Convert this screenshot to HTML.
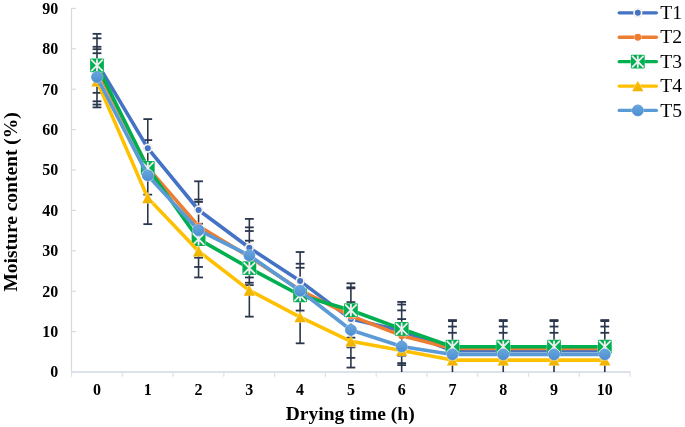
<!DOCTYPE html>
<html><head><meta charset="utf-8"><style>
html,body{margin:0;padding:0;background:#fff;}
body{width:685px;height:427px;overflow:hidden;}
svg{display:block;}
</style></head><body>
<svg width="685" height="427" viewBox="0 0 685 427">
<defs><linearGradient id="g5" x1="0" y1="0" x2="0" y2="1"><stop offset="0" stop-color="#67A6DF"/><stop offset="1" stop-color="#4E8ECF"/></linearGradient><linearGradient id="g4" x1="0" y1="0" x2="0" y2="1"><stop offset="0" stop-color="#FFC000"/><stop offset="1" stop-color="#EFB200"/></linearGradient></defs>
<line x1="71.5" y1="8.4" x2="71.5" y2="372" stroke="#D9D9D9" stroke-width="1.2"/>
<line x1="71.5" y1="331.6" x2="76.0" y2="331.6" stroke="#D9D9D9" stroke-width="1.1"/>
<line x1="71.5" y1="291.2" x2="76.0" y2="291.2" stroke="#D9D9D9" stroke-width="1.1"/>
<line x1="71.5" y1="250.8" x2="76.0" y2="250.8" stroke="#D9D9D9" stroke-width="1.1"/>
<line x1="71.5" y1="210.4" x2="76.0" y2="210.4" stroke="#D9D9D9" stroke-width="1.1"/>
<line x1="71.5" y1="170" x2="76.0" y2="170" stroke="#D9D9D9" stroke-width="1.1"/>
<line x1="71.5" y1="129.6" x2="76.0" y2="129.6" stroke="#D9D9D9" stroke-width="1.1"/>
<line x1="71.5" y1="89.2" x2="76.0" y2="89.2" stroke="#D9D9D9" stroke-width="1.1"/>
<line x1="71.5" y1="48.8" x2="76.0" y2="48.8" stroke="#D9D9D9" stroke-width="1.1"/>
<line x1="71.5" y1="8.4" x2="76.0" y2="8.4" stroke="#D9D9D9" stroke-width="1.1"/>
<line x1="71.5" y1="372" x2="630.5" y2="372" stroke="#DDE1E9" stroke-width="2"/>
<line x1="71.5" y1="372" x2="71.5" y2="376.8" stroke="#DDE1E9" stroke-width="1.3"/>
<line x1="122.28" y1="372" x2="122.28" y2="376.8" stroke="#DDE1E9" stroke-width="1.3"/>
<line x1="173.06" y1="372" x2="173.06" y2="376.8" stroke="#DDE1E9" stroke-width="1.3"/>
<line x1="223.84" y1="372" x2="223.84" y2="376.8" stroke="#DDE1E9" stroke-width="1.3"/>
<line x1="274.62" y1="372" x2="274.62" y2="376.8" stroke="#DDE1E9" stroke-width="1.3"/>
<line x1="325.4" y1="372" x2="325.4" y2="376.8" stroke="#DDE1E9" stroke-width="1.3"/>
<line x1="376.18" y1="372" x2="376.18" y2="376.8" stroke="#DDE1E9" stroke-width="1.3"/>
<line x1="426.96" y1="372" x2="426.96" y2="376.8" stroke="#DDE1E9" stroke-width="1.3"/>
<line x1="477.74" y1="372" x2="477.74" y2="376.8" stroke="#DDE1E9" stroke-width="1.3"/>
<line x1="528.52" y1="372" x2="528.52" y2="376.8" stroke="#DDE1E9" stroke-width="1.3"/>
<line x1="579.3" y1="372" x2="579.3" y2="376.8" stroke="#DDE1E9" stroke-width="1.3"/>
<line x1="630.08" y1="372" x2="630.08" y2="376.8" stroke="#DDE1E9" stroke-width="1.3"/>
<line x1="97" y1="33.85" x2="97" y2="107.38" stroke="#2A364C" stroke-width="1.6"/>
<line x1="92.6" y1="33.85" x2="101.4" y2="33.85" stroke="#2A364C" stroke-width="1.8"/>
<line x1="92.6" y1="38.3" x2="101.4" y2="38.3" stroke="#2A364C" stroke-width="1.8"/>
<line x1="92.6" y1="46.78" x2="101.4" y2="46.78" stroke="#2A364C" stroke-width="1.8"/>
<line x1="92.6" y1="49.2" x2="101.4" y2="49.2" stroke="#2A364C" stroke-width="1.8"/>
<line x1="92.6" y1="53.24" x2="101.4" y2="53.24" stroke="#2A364C" stroke-width="1.8"/>
<line x1="92.6" y1="92.84" x2="101.4" y2="92.84" stroke="#2A364C" stroke-width="1.8"/>
<line x1="92.6" y1="101.32" x2="101.4" y2="101.32" stroke="#2A364C" stroke-width="1.8"/>
<line x1="92.6" y1="104.55" x2="101.4" y2="104.55" stroke="#2A364C" stroke-width="1.8"/>
<line x1="92.6" y1="107.38" x2="101.4" y2="107.38" stroke="#2A364C" stroke-width="1.8"/>
<line x1="147.78" y1="119.1" x2="147.78" y2="224.14" stroke="#2A364C" stroke-width="1.6"/>
<line x1="143.38" y1="119.1" x2="152.18" y2="119.1" stroke="#2A364C" stroke-width="1.8"/>
<line x1="143.38" y1="140.1" x2="152.18" y2="140.1" stroke="#2A364C" stroke-width="1.8"/>
<line x1="143.38" y1="194.64" x2="152.18" y2="194.64" stroke="#2A364C" stroke-width="1.8"/>
<line x1="143.38" y1="224.14" x2="152.18" y2="224.14" stroke="#2A364C" stroke-width="1.8"/>
<line x1="198.56" y1="181.31" x2="198.56" y2="277.46" stroke="#2A364C" stroke-width="1.6"/>
<line x1="194.16" y1="181.31" x2="202.96" y2="181.31" stroke="#2A364C" stroke-width="1.8"/>
<line x1="194.16" y1="199.49" x2="202.96" y2="199.49" stroke="#2A364C" stroke-width="1.8"/>
<line x1="194.16" y1="201.92" x2="202.96" y2="201.92" stroke="#2A364C" stroke-width="1.8"/>
<line x1="194.16" y1="223.73" x2="202.96" y2="223.73" stroke="#2A364C" stroke-width="1.8"/>
<line x1="194.16" y1="257.67" x2="202.96" y2="257.67" stroke="#2A364C" stroke-width="1.8"/>
<line x1="194.16" y1="266.96" x2="202.96" y2="266.96" stroke="#2A364C" stroke-width="1.8"/>
<line x1="194.16" y1="277.46" x2="202.96" y2="277.46" stroke="#2A364C" stroke-width="1.8"/>
<line x1="249.34" y1="218.88" x2="249.34" y2="316.65" stroke="#2A364C" stroke-width="1.6"/>
<line x1="244.94" y1="218.88" x2="253.74" y2="218.88" stroke="#2A364C" stroke-width="1.8"/>
<line x1="244.94" y1="227.37" x2="253.74" y2="227.37" stroke="#2A364C" stroke-width="1.8"/>
<line x1="244.94" y1="231" x2="253.74" y2="231" stroke="#2A364C" stroke-width="1.8"/>
<line x1="244.94" y1="240.7" x2="253.74" y2="240.7" stroke="#2A364C" stroke-width="1.8"/>
<line x1="244.94" y1="277.46" x2="253.74" y2="277.46" stroke="#2A364C" stroke-width="1.8"/>
<line x1="244.94" y1="282.72" x2="253.74" y2="282.72" stroke="#2A364C" stroke-width="1.8"/>
<line x1="244.94" y1="285.14" x2="253.74" y2="285.14" stroke="#2A364C" stroke-width="1.8"/>
<line x1="244.94" y1="316.65" x2="253.74" y2="316.65" stroke="#2A364C" stroke-width="1.8"/>
<line x1="300.12" y1="252.01" x2="300.12" y2="343.32" stroke="#2A364C" stroke-width="1.6"/>
<line x1="295.72" y1="252.01" x2="304.52" y2="252.01" stroke="#2A364C" stroke-width="1.8"/>
<line x1="295.72" y1="263.73" x2="304.52" y2="263.73" stroke="#2A364C" stroke-width="1.8"/>
<line x1="295.72" y1="267.77" x2="304.52" y2="267.77" stroke="#2A364C" stroke-width="1.8"/>
<line x1="295.72" y1="310.59" x2="304.52" y2="310.59" stroke="#2A364C" stroke-width="1.8"/>
<line x1="295.72" y1="343.32" x2="304.52" y2="343.32" stroke="#2A364C" stroke-width="1.8"/>
<line x1="350.9" y1="283.32" x2="350.9" y2="367.56" stroke="#2A364C" stroke-width="1.6"/>
<line x1="346.5" y1="283.32" x2="355.3" y2="283.32" stroke="#2A364C" stroke-width="1.8"/>
<line x1="346.5" y1="287.32" x2="355.3" y2="287.32" stroke="#2A364C" stroke-width="1.8"/>
<line x1="346.5" y1="288.37" x2="355.3" y2="288.37" stroke="#2A364C" stroke-width="1.8"/>
<line x1="346.5" y1="302.11" x2="355.3" y2="302.11" stroke="#2A364C" stroke-width="1.8"/>
<line x1="346.5" y1="337.66" x2="355.3" y2="337.66" stroke="#2A364C" stroke-width="1.8"/>
<line x1="346.5" y1="347.36" x2="355.3" y2="347.36" stroke="#2A364C" stroke-width="1.8"/>
<line x1="346.5" y1="357.86" x2="355.3" y2="357.86" stroke="#2A364C" stroke-width="1.8"/>
<line x1="346.5" y1="367.56" x2="355.3" y2="367.56" stroke="#2A364C" stroke-width="1.8"/>
<line x1="401.68" y1="301.91" x2="401.68" y2="372" stroke="#2A364C" stroke-width="1.6"/>
<line x1="397.28" y1="301.91" x2="406.08" y2="301.91" stroke="#2A364C" stroke-width="1.8"/>
<line x1="397.28" y1="304.53" x2="406.08" y2="304.53" stroke="#2A364C" stroke-width="1.8"/>
<line x1="397.28" y1="310.39" x2="406.08" y2="310.39" stroke="#2A364C" stroke-width="1.8"/>
<line x1="397.28" y1="319.08" x2="406.08" y2="319.08" stroke="#2A364C" stroke-width="1.8"/>
<line x1="397.28" y1="355.84" x2="406.08" y2="355.84" stroke="#2A364C" stroke-width="1.8"/>
<line x1="397.28" y1="363.11" x2="406.08" y2="363.11" stroke="#2A364C" stroke-width="1.8"/>
<line x1="397.28" y1="365.13" x2="406.08" y2="365.13" stroke="#2A364C" stroke-width="1.8"/>
<line x1="452.46" y1="320.05" x2="452.46" y2="372" stroke="#2A364C" stroke-width="1.6"/>
<line x1="448.06" y1="320.05" x2="456.86" y2="320.05" stroke="#2A364C" stroke-width="1.8"/>
<line x1="448.06" y1="321.1" x2="456.86" y2="321.1" stroke="#2A364C" stroke-width="1.8"/>
<line x1="448.06" y1="326.55" x2="456.86" y2="326.55" stroke="#2A364C" stroke-width="1.8"/>
<line x1="448.06" y1="332.81" x2="456.86" y2="332.81" stroke="#2A364C" stroke-width="1.8"/>
<line x1="503.24" y1="320.05" x2="503.24" y2="372" stroke="#2A364C" stroke-width="1.6"/>
<line x1="498.84" y1="320.05" x2="507.64" y2="320.05" stroke="#2A364C" stroke-width="1.8"/>
<line x1="498.84" y1="321.1" x2="507.64" y2="321.1" stroke="#2A364C" stroke-width="1.8"/>
<line x1="498.84" y1="326.55" x2="507.64" y2="326.55" stroke="#2A364C" stroke-width="1.8"/>
<line x1="498.84" y1="332.81" x2="507.64" y2="332.81" stroke="#2A364C" stroke-width="1.8"/>
<line x1="554.02" y1="320.05" x2="554.02" y2="372" stroke="#2A364C" stroke-width="1.6"/>
<line x1="549.62" y1="320.05" x2="558.42" y2="320.05" stroke="#2A364C" stroke-width="1.8"/>
<line x1="549.62" y1="321.1" x2="558.42" y2="321.1" stroke="#2A364C" stroke-width="1.8"/>
<line x1="549.62" y1="326.55" x2="558.42" y2="326.55" stroke="#2A364C" stroke-width="1.8"/>
<line x1="549.62" y1="332.81" x2="558.42" y2="332.81" stroke="#2A364C" stroke-width="1.8"/>
<line x1="604.8" y1="320.05" x2="604.8" y2="372" stroke="#2A364C" stroke-width="1.6"/>
<line x1="600.4" y1="320.05" x2="609.2" y2="320.05" stroke="#2A364C" stroke-width="1.8"/>
<line x1="600.4" y1="321.1" x2="609.2" y2="321.1" stroke="#2A364C" stroke-width="1.8"/>
<line x1="600.4" y1="326.55" x2="609.2" y2="326.55" stroke="#2A364C" stroke-width="1.8"/>
<line x1="600.4" y1="332.81" x2="609.2" y2="332.81" stroke="#2A364C" stroke-width="1.8"/>
<polyline points="97,62.94 147.78,148.18 198.56,210 249.34,247.77 300.12,281.1 350.9,319.08 401.68,330.79 452.46,350.79 503.24,350.79 554.02,350.79 604.8,350.79" fill="none" stroke="#4472C4" stroke-width="3.6" stroke-linejoin="round" stroke-linecap="round"/>
<circle cx="97" cy="62.94" r="4.7" fill="#E8E4DD"/>
<circle cx="97" cy="62.94" r="4.0" fill="#FBFAF7"/>
<circle cx="97" cy="62.94" r="3.0" fill="#4472C4"/>
<circle cx="147.78" cy="148.18" r="4.7" fill="#E8E4DD"/>
<circle cx="147.78" cy="148.18" r="4.0" fill="#FBFAF7"/>
<circle cx="147.78" cy="148.18" r="3.0" fill="#4472C4"/>
<circle cx="198.56" cy="210" r="4.7" fill="#E8E4DD"/>
<circle cx="198.56" cy="210" r="4.0" fill="#FBFAF7"/>
<circle cx="198.56" cy="210" r="3.0" fill="#4472C4"/>
<circle cx="249.34" cy="247.77" r="4.7" fill="#E8E4DD"/>
<circle cx="249.34" cy="247.77" r="4.0" fill="#FBFAF7"/>
<circle cx="249.34" cy="247.77" r="3.0" fill="#4472C4"/>
<circle cx="300.12" cy="281.1" r="4.7" fill="#E8E4DD"/>
<circle cx="300.12" cy="281.1" r="4.0" fill="#FBFAF7"/>
<circle cx="300.12" cy="281.1" r="3.0" fill="#4472C4"/>
<circle cx="350.9" cy="319.08" r="4.7" fill="#E8E4DD"/>
<circle cx="350.9" cy="319.08" r="4.0" fill="#FBFAF7"/>
<circle cx="350.9" cy="319.08" r="3.0" fill="#4472C4"/>
<circle cx="401.68" cy="330.79" r="4.7" fill="#E8E4DD"/>
<circle cx="401.68" cy="330.79" r="4.0" fill="#FBFAF7"/>
<circle cx="401.68" cy="330.79" r="3.0" fill="#4472C4"/>
<circle cx="452.46" cy="350.79" r="4.7" fill="#E8E4DD"/>
<circle cx="452.46" cy="350.79" r="4.0" fill="#FBFAF7"/>
<circle cx="452.46" cy="350.79" r="3.0" fill="#4472C4"/>
<circle cx="503.24" cy="350.79" r="4.7" fill="#E8E4DD"/>
<circle cx="503.24" cy="350.79" r="4.0" fill="#FBFAF7"/>
<circle cx="503.24" cy="350.79" r="3.0" fill="#4472C4"/>
<circle cx="554.02" cy="350.79" r="4.7" fill="#E8E4DD"/>
<circle cx="554.02" cy="350.79" r="4.0" fill="#FBFAF7"/>
<circle cx="554.02" cy="350.79" r="3.0" fill="#4472C4"/>
<circle cx="604.8" cy="350.79" r="4.7" fill="#E8E4DD"/>
<circle cx="604.8" cy="350.79" r="4.0" fill="#FBFAF7"/>
<circle cx="604.8" cy="350.79" r="3.0" fill="#4472C4"/>
<polyline points="97,69 147.78,167.58 198.56,226.16 249.34,256.86 300.12,289.99 350.9,315.84 401.68,335.64 452.46,348.57 503.24,348.57 554.02,348.57 604.8,348.57" fill="none" stroke="#ED7D31" stroke-width="3.6" stroke-linejoin="round" stroke-linecap="round"/>
<circle cx="97" cy="69" r="4.1" fill="#FFFFFF" fill-opacity="0.5"/>
<circle cx="97" cy="69" r="3.4" fill="#ED7D31"/>
<circle cx="147.78" cy="167.58" r="4.1" fill="#FFFFFF" fill-opacity="0.5"/>
<circle cx="147.78" cy="167.58" r="3.4" fill="#ED7D31"/>
<circle cx="198.56" cy="226.16" r="4.1" fill="#FFFFFF" fill-opacity="0.5"/>
<circle cx="198.56" cy="226.16" r="3.4" fill="#ED7D31"/>
<circle cx="249.34" cy="256.86" r="4.1" fill="#FFFFFF" fill-opacity="0.5"/>
<circle cx="249.34" cy="256.86" r="3.4" fill="#ED7D31"/>
<circle cx="300.12" cy="289.99" r="4.1" fill="#FFFFFF" fill-opacity="0.5"/>
<circle cx="300.12" cy="289.99" r="3.4" fill="#ED7D31"/>
<circle cx="350.9" cy="315.84" r="4.1" fill="#FFFFFF" fill-opacity="0.5"/>
<circle cx="350.9" cy="315.84" r="3.4" fill="#ED7D31"/>
<circle cx="401.68" cy="335.64" r="4.1" fill="#FFFFFF" fill-opacity="0.5"/>
<circle cx="401.68" cy="335.64" r="3.4" fill="#ED7D31"/>
<circle cx="452.46" cy="348.57" r="4.1" fill="#FFFFFF" fill-opacity="0.5"/>
<circle cx="452.46" cy="348.57" r="3.4" fill="#ED7D31"/>
<circle cx="503.24" cy="348.57" r="4.1" fill="#FFFFFF" fill-opacity="0.5"/>
<circle cx="503.24" cy="348.57" r="3.4" fill="#ED7D31"/>
<circle cx="554.02" cy="348.57" r="4.1" fill="#FFFFFF" fill-opacity="0.5"/>
<circle cx="554.02" cy="348.57" r="3.4" fill="#ED7D31"/>
<circle cx="604.8" cy="348.57" r="4.1" fill="#FFFFFF" fill-opacity="0.5"/>
<circle cx="604.8" cy="348.57" r="3.4" fill="#ED7D31"/>
<polyline points="97,65.36 147.78,167.98 198.56,239.08 249.34,268.17 300.12,295.24 350.9,310.19 401.68,328.97 452.46,346.75 503.24,346.75 554.02,346.75 604.8,346.75" fill="none" stroke="#00B050" stroke-width="3.6" stroke-linejoin="round" stroke-linecap="round"/>
<rect x="90.1" y="58.46" width="13.8" height="13.8" rx="1.2" fill="#00B050" stroke="#FFFFFF" stroke-opacity="0.5" stroke-width="1" paint-order="stroke"/>
<path d="M91.2 59.56L102.8 71.16M102.8 59.56L91.2 71.16M97 59.26L97 71.46" stroke="#F1ECF2" stroke-width="1.8" fill="none"/>
<rect x="140.88" y="161.08" width="13.8" height="13.8" rx="1.2" fill="#00B050" stroke="#FFFFFF" stroke-opacity="0.5" stroke-width="1" paint-order="stroke"/>
<path d="M141.98 162.18L153.58 173.78M153.58 162.18L141.98 173.78M147.78 161.88L147.78 174.08" stroke="#F1ECF2" stroke-width="1.8" fill="none"/>
<rect x="191.66" y="232.18" width="13.8" height="13.8" rx="1.2" fill="#00B050" stroke="#FFFFFF" stroke-opacity="0.5" stroke-width="1" paint-order="stroke"/>
<path d="M192.76 233.28L204.36 244.88M204.36 233.28L192.76 244.88M198.56 232.98L198.56 245.18" stroke="#F1ECF2" stroke-width="1.8" fill="none"/>
<rect x="242.44" y="261.27" width="13.8" height="13.8" rx="1.2" fill="#00B050" stroke="#FFFFFF" stroke-opacity="0.5" stroke-width="1" paint-order="stroke"/>
<path d="M243.54 262.37L255.14 273.97M255.14 262.37L243.54 273.97M249.34 262.07L249.34 274.27" stroke="#F1ECF2" stroke-width="1.8" fill="none"/>
<rect x="293.22" y="288.34" width="13.8" height="13.8" rx="1.2" fill="#00B050" stroke="#FFFFFF" stroke-opacity="0.5" stroke-width="1" paint-order="stroke"/>
<path d="M294.32 289.44L305.92 301.04M305.92 289.44L294.32 301.04M300.12 289.14L300.12 301.34" stroke="#F1ECF2" stroke-width="1.8" fill="none"/>
<rect x="344" y="303.29" width="13.8" height="13.8" rx="1.2" fill="#00B050" stroke="#FFFFFF" stroke-opacity="0.5" stroke-width="1" paint-order="stroke"/>
<path d="M345.1 304.39L356.7 315.99M356.7 304.39L345.1 315.99M350.9 304.09L350.9 316.29" stroke="#F1ECF2" stroke-width="1.8" fill="none"/>
<rect x="394.78" y="322.07" width="13.8" height="13.8" rx="1.2" fill="#00B050" stroke="#FFFFFF" stroke-opacity="0.5" stroke-width="1" paint-order="stroke"/>
<path d="M395.88 323.17L407.48 334.77M407.48 323.17L395.88 334.77M401.68 322.87L401.68 335.07" stroke="#F1ECF2" stroke-width="1.8" fill="none"/>
<rect x="445.56" y="339.85" width="13.8" height="13.8" rx="1.2" fill="#00B050" stroke="#FFFFFF" stroke-opacity="0.5" stroke-width="1" paint-order="stroke"/>
<path d="M446.66 340.95L458.26 352.55M458.26 340.95L446.66 352.55M452.46 340.65L452.46 352.85" stroke="#F1ECF2" stroke-width="1.8" fill="none"/>
<rect x="496.34" y="339.85" width="13.8" height="13.8" rx="1.2" fill="#00B050" stroke="#FFFFFF" stroke-opacity="0.5" stroke-width="1" paint-order="stroke"/>
<path d="M497.44 340.95L509.04 352.55M509.04 340.95L497.44 352.55M503.24 340.65L503.24 352.85" stroke="#F1ECF2" stroke-width="1.8" fill="none"/>
<rect x="547.12" y="339.85" width="13.8" height="13.8" rx="1.2" fill="#00B050" stroke="#FFFFFF" stroke-opacity="0.5" stroke-width="1" paint-order="stroke"/>
<path d="M548.22 340.95L559.82 352.55M559.82 340.95L548.22 352.55M554.02 340.65L554.02 352.85" stroke="#F1ECF2" stroke-width="1.8" fill="none"/>
<rect x="597.9" y="339.85" width="13.8" height="13.8" rx="1.2" fill="#00B050" stroke="#FFFFFF" stroke-opacity="0.5" stroke-width="1" paint-order="stroke"/>
<path d="M599 340.95L610.6 352.55M610.6 340.95L599 352.55M604.8 340.65L604.8 352.85" stroke="#F1ECF2" stroke-width="1.8" fill="none"/>
<polyline points="97,81.12 147.78,197.88 198.56,251.2 249.34,290.39 300.12,317.06 350.9,341.3 401.68,350.59 452.46,360.08 503.24,360.08 554.02,360.08 604.8,360.08" fill="none" stroke="#FFC000" stroke-width="3.6" stroke-linejoin="round" stroke-linecap="round"/>
<path d="M97 75.82L102.6 86.42L91.4 86.42Z" fill="url(#g4)" stroke="#FFFFFF" stroke-opacity="0.55" stroke-width="1.2" stroke-linejoin="round" paint-order="stroke"/>
<path d="M147.78 192.58L153.38 203.18L142.18 203.18Z" fill="url(#g4)" stroke="#FFFFFF" stroke-opacity="0.55" stroke-width="1.2" stroke-linejoin="round" paint-order="stroke"/>
<path d="M198.56 245.9L204.16 256.5L192.96 256.5Z" fill="url(#g4)" stroke="#FFFFFF" stroke-opacity="0.55" stroke-width="1.2" stroke-linejoin="round" paint-order="stroke"/>
<path d="M249.34 285.09L254.94 295.69L243.74 295.69Z" fill="url(#g4)" stroke="#FFFFFF" stroke-opacity="0.55" stroke-width="1.2" stroke-linejoin="round" paint-order="stroke"/>
<path d="M300.12 311.76L305.72 322.36L294.52 322.36Z" fill="url(#g4)" stroke="#FFFFFF" stroke-opacity="0.55" stroke-width="1.2" stroke-linejoin="round" paint-order="stroke"/>
<path d="M350.9 336L356.5 346.6L345.3 346.6Z" fill="url(#g4)" stroke="#FFFFFF" stroke-opacity="0.55" stroke-width="1.2" stroke-linejoin="round" paint-order="stroke"/>
<path d="M401.68 345.29L407.28 355.89L396.08 355.89Z" fill="url(#g4)" stroke="#FFFFFF" stroke-opacity="0.55" stroke-width="1.2" stroke-linejoin="round" paint-order="stroke"/>
<path d="M452.46 354.78L458.06 365.38L446.86 365.38Z" fill="url(#g4)" stroke="#FFFFFF" stroke-opacity="0.55" stroke-width="1.2" stroke-linejoin="round" paint-order="stroke"/>
<path d="M503.24 354.78L508.84 365.38L497.64 365.38Z" fill="url(#g4)" stroke="#FFFFFF" stroke-opacity="0.55" stroke-width="1.2" stroke-linejoin="round" paint-order="stroke"/>
<path d="M554.02 354.78L559.62 365.38L548.42 365.38Z" fill="url(#g4)" stroke="#FFFFFF" stroke-opacity="0.55" stroke-width="1.2" stroke-linejoin="round" paint-order="stroke"/>
<path d="M604.8 354.78L610.4 365.38L599.2 365.38Z" fill="url(#g4)" stroke="#FFFFFF" stroke-opacity="0.55" stroke-width="1.2" stroke-linejoin="round" paint-order="stroke"/>
<polyline points="97,77.08 147.78,175.45 198.56,230.2 249.34,255.45 300.12,290.8 350.9,329.98 401.68,346.55 452.46,354.43 503.24,354.43 554.02,354.43 604.8,354.43" fill="none" stroke="#5B9BD5" stroke-width="3.6" stroke-linejoin="round" stroke-linecap="round"/>
<circle cx="97" cy="77.08" r="6.3" fill="#FFFFFF" fill-opacity="0.6"/>
<circle cx="97" cy="77.08" r="5.5" fill="url(#g5)" stroke="#4D8CD2" stroke-width="0.7"/>
<circle cx="147.78" cy="175.45" r="6.3" fill="#FFFFFF" fill-opacity="0.6"/>
<circle cx="147.78" cy="175.45" r="5.5" fill="url(#g5)" stroke="#4D8CD2" stroke-width="0.7"/>
<circle cx="198.56" cy="230.2" r="6.3" fill="#FFFFFF" fill-opacity="0.6"/>
<circle cx="198.56" cy="230.2" r="5.5" fill="url(#g5)" stroke="#4D8CD2" stroke-width="0.7"/>
<circle cx="249.34" cy="255.45" r="6.3" fill="#FFFFFF" fill-opacity="0.6"/>
<circle cx="249.34" cy="255.45" r="5.5" fill="url(#g5)" stroke="#4D8CD2" stroke-width="0.7"/>
<circle cx="300.12" cy="290.8" r="6.3" fill="#FFFFFF" fill-opacity="0.6"/>
<circle cx="300.12" cy="290.8" r="5.5" fill="url(#g5)" stroke="#4D8CD2" stroke-width="0.7"/>
<circle cx="350.9" cy="329.98" r="6.3" fill="#FFFFFF" fill-opacity="0.6"/>
<circle cx="350.9" cy="329.98" r="5.5" fill="url(#g5)" stroke="#4D8CD2" stroke-width="0.7"/>
<circle cx="401.68" cy="346.55" r="6.3" fill="#FFFFFF" fill-opacity="0.6"/>
<circle cx="401.68" cy="346.55" r="5.5" fill="url(#g5)" stroke="#4D8CD2" stroke-width="0.7"/>
<circle cx="452.46" cy="354.43" r="6.3" fill="#FFFFFF" fill-opacity="0.6"/>
<circle cx="452.46" cy="354.43" r="5.5" fill="url(#g5)" stroke="#4D8CD2" stroke-width="0.7"/>
<circle cx="503.24" cy="354.43" r="6.3" fill="#FFFFFF" fill-opacity="0.6"/>
<circle cx="503.24" cy="354.43" r="5.5" fill="url(#g5)" stroke="#4D8CD2" stroke-width="0.7"/>
<circle cx="554.02" cy="354.43" r="6.3" fill="#FFFFFF" fill-opacity="0.6"/>
<circle cx="554.02" cy="354.43" r="5.5" fill="url(#g5)" stroke="#4D8CD2" stroke-width="0.7"/>
<circle cx="604.8" cy="354.43" r="6.3" fill="#FFFFFF" fill-opacity="0.6"/>
<circle cx="604.8" cy="354.43" r="5.5" fill="url(#g5)" stroke="#4D8CD2" stroke-width="0.7"/>
<text x="58.2" y="377.4" text-anchor="end" font-family="'Liberation Serif','Times New Roman',serif" font-weight="bold" font-size="16">0</text>
<text x="58.2" y="337" text-anchor="end" font-family="'Liberation Serif','Times New Roman',serif" font-weight="bold" font-size="16">10</text>
<text x="58.2" y="296.6" text-anchor="end" font-family="'Liberation Serif','Times New Roman',serif" font-weight="bold" font-size="16">20</text>
<text x="58.2" y="256.2" text-anchor="end" font-family="'Liberation Serif','Times New Roman',serif" font-weight="bold" font-size="16">30</text>
<text x="58.2" y="215.8" text-anchor="end" font-family="'Liberation Serif','Times New Roman',serif" font-weight="bold" font-size="16">40</text>
<text x="58.2" y="175.4" text-anchor="end" font-family="'Liberation Serif','Times New Roman',serif" font-weight="bold" font-size="16">50</text>
<text x="58.2" y="135" text-anchor="end" font-family="'Liberation Serif','Times New Roman',serif" font-weight="bold" font-size="16">60</text>
<text x="58.2" y="94.6" text-anchor="end" font-family="'Liberation Serif','Times New Roman',serif" font-weight="bold" font-size="16">70</text>
<text x="58.2" y="54.2" text-anchor="end" font-family="'Liberation Serif','Times New Roman',serif" font-weight="bold" font-size="16">80</text>
<text x="58.2" y="13.8" text-anchor="end" font-family="'Liberation Serif','Times New Roman',serif" font-weight="bold" font-size="16">90</text>
<text x="97" y="395.3" text-anchor="middle" font-family="'Liberation Serif','Times New Roman',serif" font-weight="bold" font-size="16">0</text>
<text x="147.78" y="395.3" text-anchor="middle" font-family="'Liberation Serif','Times New Roman',serif" font-weight="bold" font-size="16">1</text>
<text x="198.56" y="395.3" text-anchor="middle" font-family="'Liberation Serif','Times New Roman',serif" font-weight="bold" font-size="16">2</text>
<text x="249.34" y="395.3" text-anchor="middle" font-family="'Liberation Serif','Times New Roman',serif" font-weight="bold" font-size="16">3</text>
<text x="300.12" y="395.3" text-anchor="middle" font-family="'Liberation Serif','Times New Roman',serif" font-weight="bold" font-size="16">4</text>
<text x="350.9" y="395.3" text-anchor="middle" font-family="'Liberation Serif','Times New Roman',serif" font-weight="bold" font-size="16">5</text>
<text x="401.68" y="395.3" text-anchor="middle" font-family="'Liberation Serif','Times New Roman',serif" font-weight="bold" font-size="16">6</text>
<text x="452.46" y="395.3" text-anchor="middle" font-family="'Liberation Serif','Times New Roman',serif" font-weight="bold" font-size="16">7</text>
<text x="503.24" y="395.3" text-anchor="middle" font-family="'Liberation Serif','Times New Roman',serif" font-weight="bold" font-size="16">8</text>
<text x="554.02" y="395.3" text-anchor="middle" font-family="'Liberation Serif','Times New Roman',serif" font-weight="bold" font-size="16">9</text>
<text x="604.8" y="395.3" text-anchor="middle" font-family="'Liberation Serif','Times New Roman',serif" font-weight="bold" font-size="16">10</text>
<text x="350.2" y="419.8" text-anchor="middle" font-family="'Liberation Serif','Times New Roman',serif" font-weight="bold" font-size="19.5">Drying time (h)</text>
<text transform="translate(16.6,201.9) rotate(-90)" x="0" y="0" text-anchor="middle" font-family="'Liberation Serif','Times New Roman',serif" font-weight="bold" font-size="19.5">Moisture content (%)</text>
<line x1="619.2" y1="12.85" x2="656.4" y2="12.85" stroke="#4472C4" stroke-width="3.3" stroke-linecap="round"/>
<circle cx="637.8" cy="12.85" r="4.7" fill="#E8E4DD"/>
<circle cx="637.8" cy="12.85" r="4.0" fill="#FBFAF7"/>
<circle cx="637.8" cy="12.85" r="3.0" fill="#4472C4"/>
<text x="660.3" y="18.95" font-family="'Liberation Serif','Times New Roman',serif" font-size="19.6">T1</text>
<line x1="619.2" y1="37.25" x2="656.4" y2="37.25" stroke="#ED7D31" stroke-width="3.3" stroke-linecap="round"/>
<circle cx="637.8" cy="37.25" r="4.1" fill="#FFFFFF" fill-opacity="0.5"/>
<circle cx="637.8" cy="37.25" r="3.4" fill="#ED7D31"/>
<text x="660.3" y="43.35" font-family="'Liberation Serif','Times New Roman',serif" font-size="19.6">T2</text>
<line x1="619.2" y1="61.65" x2="656.4" y2="61.65" stroke="#00B050" stroke-width="3.3" stroke-linecap="round"/>
<rect x="630.9" y="54.75" width="13.8" height="13.8" rx="1.2" fill="#00B050" stroke="#FFFFFF" stroke-opacity="0.5" stroke-width="1" paint-order="stroke"/>
<path d="M632 55.85L643.6 67.45M643.6 55.85L632 67.45M637.8 55.55L637.8 67.75" stroke="#F1ECF2" stroke-width="1.8" fill="none"/>
<text x="660.3" y="67.75" font-family="'Liberation Serif','Times New Roman',serif" font-size="19.6">T3</text>
<line x1="619.2" y1="86.05" x2="656.4" y2="86.05" stroke="#FFC000" stroke-width="3.3" stroke-linecap="round"/>
<path d="M637.8 80.75L643.4 91.35L632.2 91.35Z" fill="url(#g4)" stroke="#FFFFFF" stroke-opacity="0.55" stroke-width="1.2" stroke-linejoin="round" paint-order="stroke"/>
<text x="660.3" y="92.15" font-family="'Liberation Serif','Times New Roman',serif" font-size="19.6">T4</text>
<line x1="619.2" y1="110.45" x2="656.4" y2="110.45" stroke="#5B9BD5" stroke-width="3.3" stroke-linecap="round"/>
<circle cx="637.8" cy="110.45" r="6.3" fill="#FFFFFF" fill-opacity="0.6"/>
<circle cx="637.8" cy="110.45" r="5.5" fill="url(#g5)" stroke="#4D8CD2" stroke-width="0.7"/>
<text x="660.3" y="116.55" font-family="'Liberation Serif','Times New Roman',serif" font-size="19.6">T5</text>
</svg>
</body></html>
